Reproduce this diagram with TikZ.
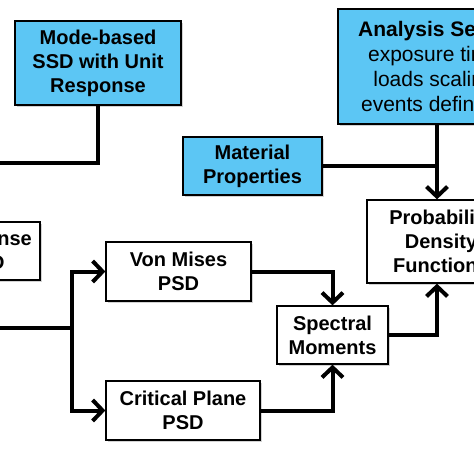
\documentclass[tikz,border=0pt]{standalone}
\usepackage{fontspec}
\setmainfont{Liberation Sans}
\usepackage{tikz}
\usetikzlibrary{arrows.meta,shadows,positioning,calc}
\definecolor{boxblue}{RGB}{92,198,244}
\tikzset{
  sBox/.style={draw=black, line width=1.3pt, fill=white, align=center,
               inner sep=0pt, font=\fontsize{20}{24}\selectfont\bfseries,
               drop shadow={shadow xshift=1.5pt, shadow yshift=-1.5pt, opacity=0.35}},
  sBlue/.style={sBox, fill=boxblue},
  sFlow/.style={line width=4pt, line join=miter},
  sArr/.style={sFlow, -{Straight Barb[length=10pt,width=21pt,line width=4pt]}},
}

\begin{document}
\begin{tikzpicture}[x=1pt,y=-1pt]
  \useasboundingbox (0,0) rectangle (474,474);
  \clip (0,0) rectangle (474,474);
  \node[sBlue, minimum width=166pt, minimum height=84pt] (mode) at (98,63)
    {Mode-based\\SSD with Unit\\Response};
  \node[sBlue, minimum width=198pt, minimum height=115pt,
        font=\fontsize{21}{25}\selectfont] (setup) at (437,66.5)
    {\textbf{Analysis Setup:}\\exposure time,\\loads scaling,\\events definition};
  \node[sBlue, minimum width=139pt, minimum height=58pt] (mat) at (252.5,166)
    {Material\\Properties};
  \node[sBox, minimum width=148pt, minimum height=83pt] (pdf) at (441,241.5)
    {Probability\\Density\\Functions};
  \node[sBox, minimum width=112pt, minimum height=58pt] (resp) at (-16,251)
    {Response\\PSD};
  \node[sBox, minimum width=145pt, minimum height=59pt] (vm) at (178.5,271.5)
    {Von Mises\\PSD};
  \node[sBox, minimum width=154pt, minimum height=59pt] (cp) at (183,410.5)
    {Critical Plane\\PSD};
  \node[sBox, minimum width=111pt, minimum height=58pt] (mom) at (332.5,335)
    {Spectral\\Moments};

  \coordinate (modeout) at (-20,163);
  \coordinate (respout) at (-20,328);
  \coordinate (split) at (72,328);
  \coordinate (join) at (437,166);

  \draw[sFlow] (mode.south) |- (modeout);
  \draw[sFlow] (respout) -- (split);
  \draw[sArr] (split) |- (vm.west);
  \draw[sArr] (split) |- (cp.west);
  \draw[sArr] (vm.east) -| (mom.north);
  \draw[sArr] (cp.east) -| (mom.south);
  \draw[sArr] (mom.east) -| (join |- pdf.south);
  \draw[sFlow] (mat.east) -- (join);
  \draw[sArr] (join |- setup.south) -- (join |- pdf.north);
\end{tikzpicture}
\end{document}
